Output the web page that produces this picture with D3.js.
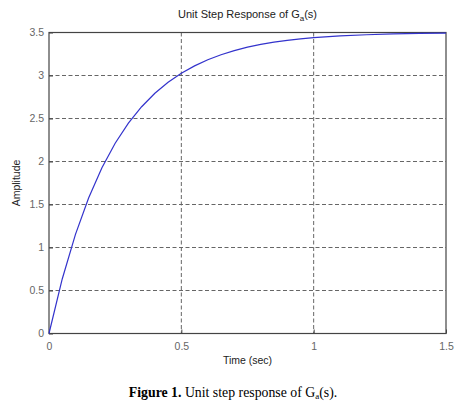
<!DOCTYPE html>
<html><head><meta charset="utf-8">
<script src="https://cdn.jsdelivr.net/npm/d3@7"></script>
<style>body{margin:0;background:#fff}svg{display:block}</style>
</head><body>
<script>
const timeVals = [0,0.05,0.1,0.15,0.2,0.25,0.3,0.35,0.4,0.45,0.5,0.55,0.6,0.65,0.7,0.75,0.8,0.85,0.9,0.95,1.0,1.1,1.2,1.3,1.4,1.5];
const ampVals  = [0,0.634,1.153,1.579,1.927,2.212,2.446,2.637,2.793,2.922,3.026,3.112,3.183,3.241,3.290,3.329,3.361,3.387,3.408,3.426,3.440,3.461,3.474,3.483,3.489,3.493];
const xTicks = [0,0.5,1,1.5];
const yTicks = [0,0.5,1,1.5,2,2.5,3,3.5];

const W=474,H=414;
const svg=d3.select("body").append("svg").attr("width",W).attr("height",H);
const m={l:49,r:446,t:32.5,b:333.5};
const x=d3.scaleLinear().domain([0,1.5]).range([m.l,m.r]);
const y=d3.scaleLinear().domain([0,3.5]).range([m.b,m.t]);
const grid="#666", txt="#666";

// grid
svg.append("g").selectAll("line").data(xTicks.slice(1,-1)).join("line")
  .attr("x1",d=>x(d)).attr("x2",d=>x(d)).attr("y1",m.t).attr("y2",m.b)
  .attr("stroke",grid).attr("stroke-dasharray","4,2.5").attr("stroke-width",1);
svg.append("g").selectAll("line").data(yTicks.slice(1)).join("line")
  .attr("x1",m.l).attr("x2",m.r).attr("y1",d=>y(d)).attr("y2",d=>y(d))
  .attr("stroke",grid).attr("stroke-dasharray","4,2.5").attr("stroke-width",1);

// axes (ticks inward)
const xa=svg.append("g").attr("transform",`translate(0,${m.b})`)
  .call(d3.axisBottom(x).tickValues(xTicks).tickSize(-4).tickPadding(9).tickFormat(d3.format("")));
const ya=svg.append("g").attr("transform",`translate(${m.l},0)`)
  .call(d3.axisLeft(y).tickValues(yTicks).tickSize(-4).tickPadding(5).tickFormat(d3.format("")));
[xa,ya].forEach(a=>{a.select(".domain").remove();
  a.selectAll("line").attr("stroke","#444");
  a.selectAll("text").attr("fill",txt).style("font-family","Liberation Sans, Arial, sans-serif").style("font-size","10.5px");});

// box
svg.append("rect").attr("x",m.l).attr("y",m.t).attr("width",m.r-m.l).attr("height",m.b-m.t)
  .attr("fill","none").attr("stroke","#444").attr("stroke-width",1.2);

// line
const pts=timeVals.map((t,i)=>[t,ampVals[i]]);
svg.append("path").datum(pts).attr("fill","none").attr("stroke","#3333cc").attr("stroke-width",1.2)
  .attr("d",d3.line().x(d=>x(d[0])).y(d=>y(d[1])));

const ff="Liberation Sans, Arial, sans-serif";
const title=svg.append("text").attr("x",(m.l+m.r)/2).attr("y",18).attr("text-anchor","middle")
  .style("font-family",ff).style("font-size","11px").attr("fill","#222");
title.append("tspan").text("Unit Step Response of G");
title.append("tspan").attr("dy",3).style("font-size","8px").text("a");
title.append("tspan").attr("dy",-3).text("(s)");

svg.append("text").attr("x",(m.l+m.r)/2).attr("y",364).attr("text-anchor","middle")
  .style("font-family",ff).style("font-size","10.5px").attr("fill","#222").text("Time (sec)");
svg.append("text").attr("transform",`translate(20,${(m.t+m.b)/2}) rotate(-90)`).attr("text-anchor","middle")
  .style("font-family",ff).style("font-size","10.5px").attr("fill","#222").text("Amplitude");

const cap=svg.append("text").attr("x",233).attr("y",397).attr("text-anchor","middle")
  .style("font-family","Liberation Serif, Times New Roman, serif").style("font-size","13.8px").attr("fill","#000");
cap.append("tspan").style("font-weight","bold").text("Figure 1.");
cap.append("tspan").text(" Unit step response of G");
cap.append("tspan").style("font-size","9px").attr("dy",2).text("a");
cap.append("tspan").attr("dy",-2).text("(s).");
</script>
</body></html>
